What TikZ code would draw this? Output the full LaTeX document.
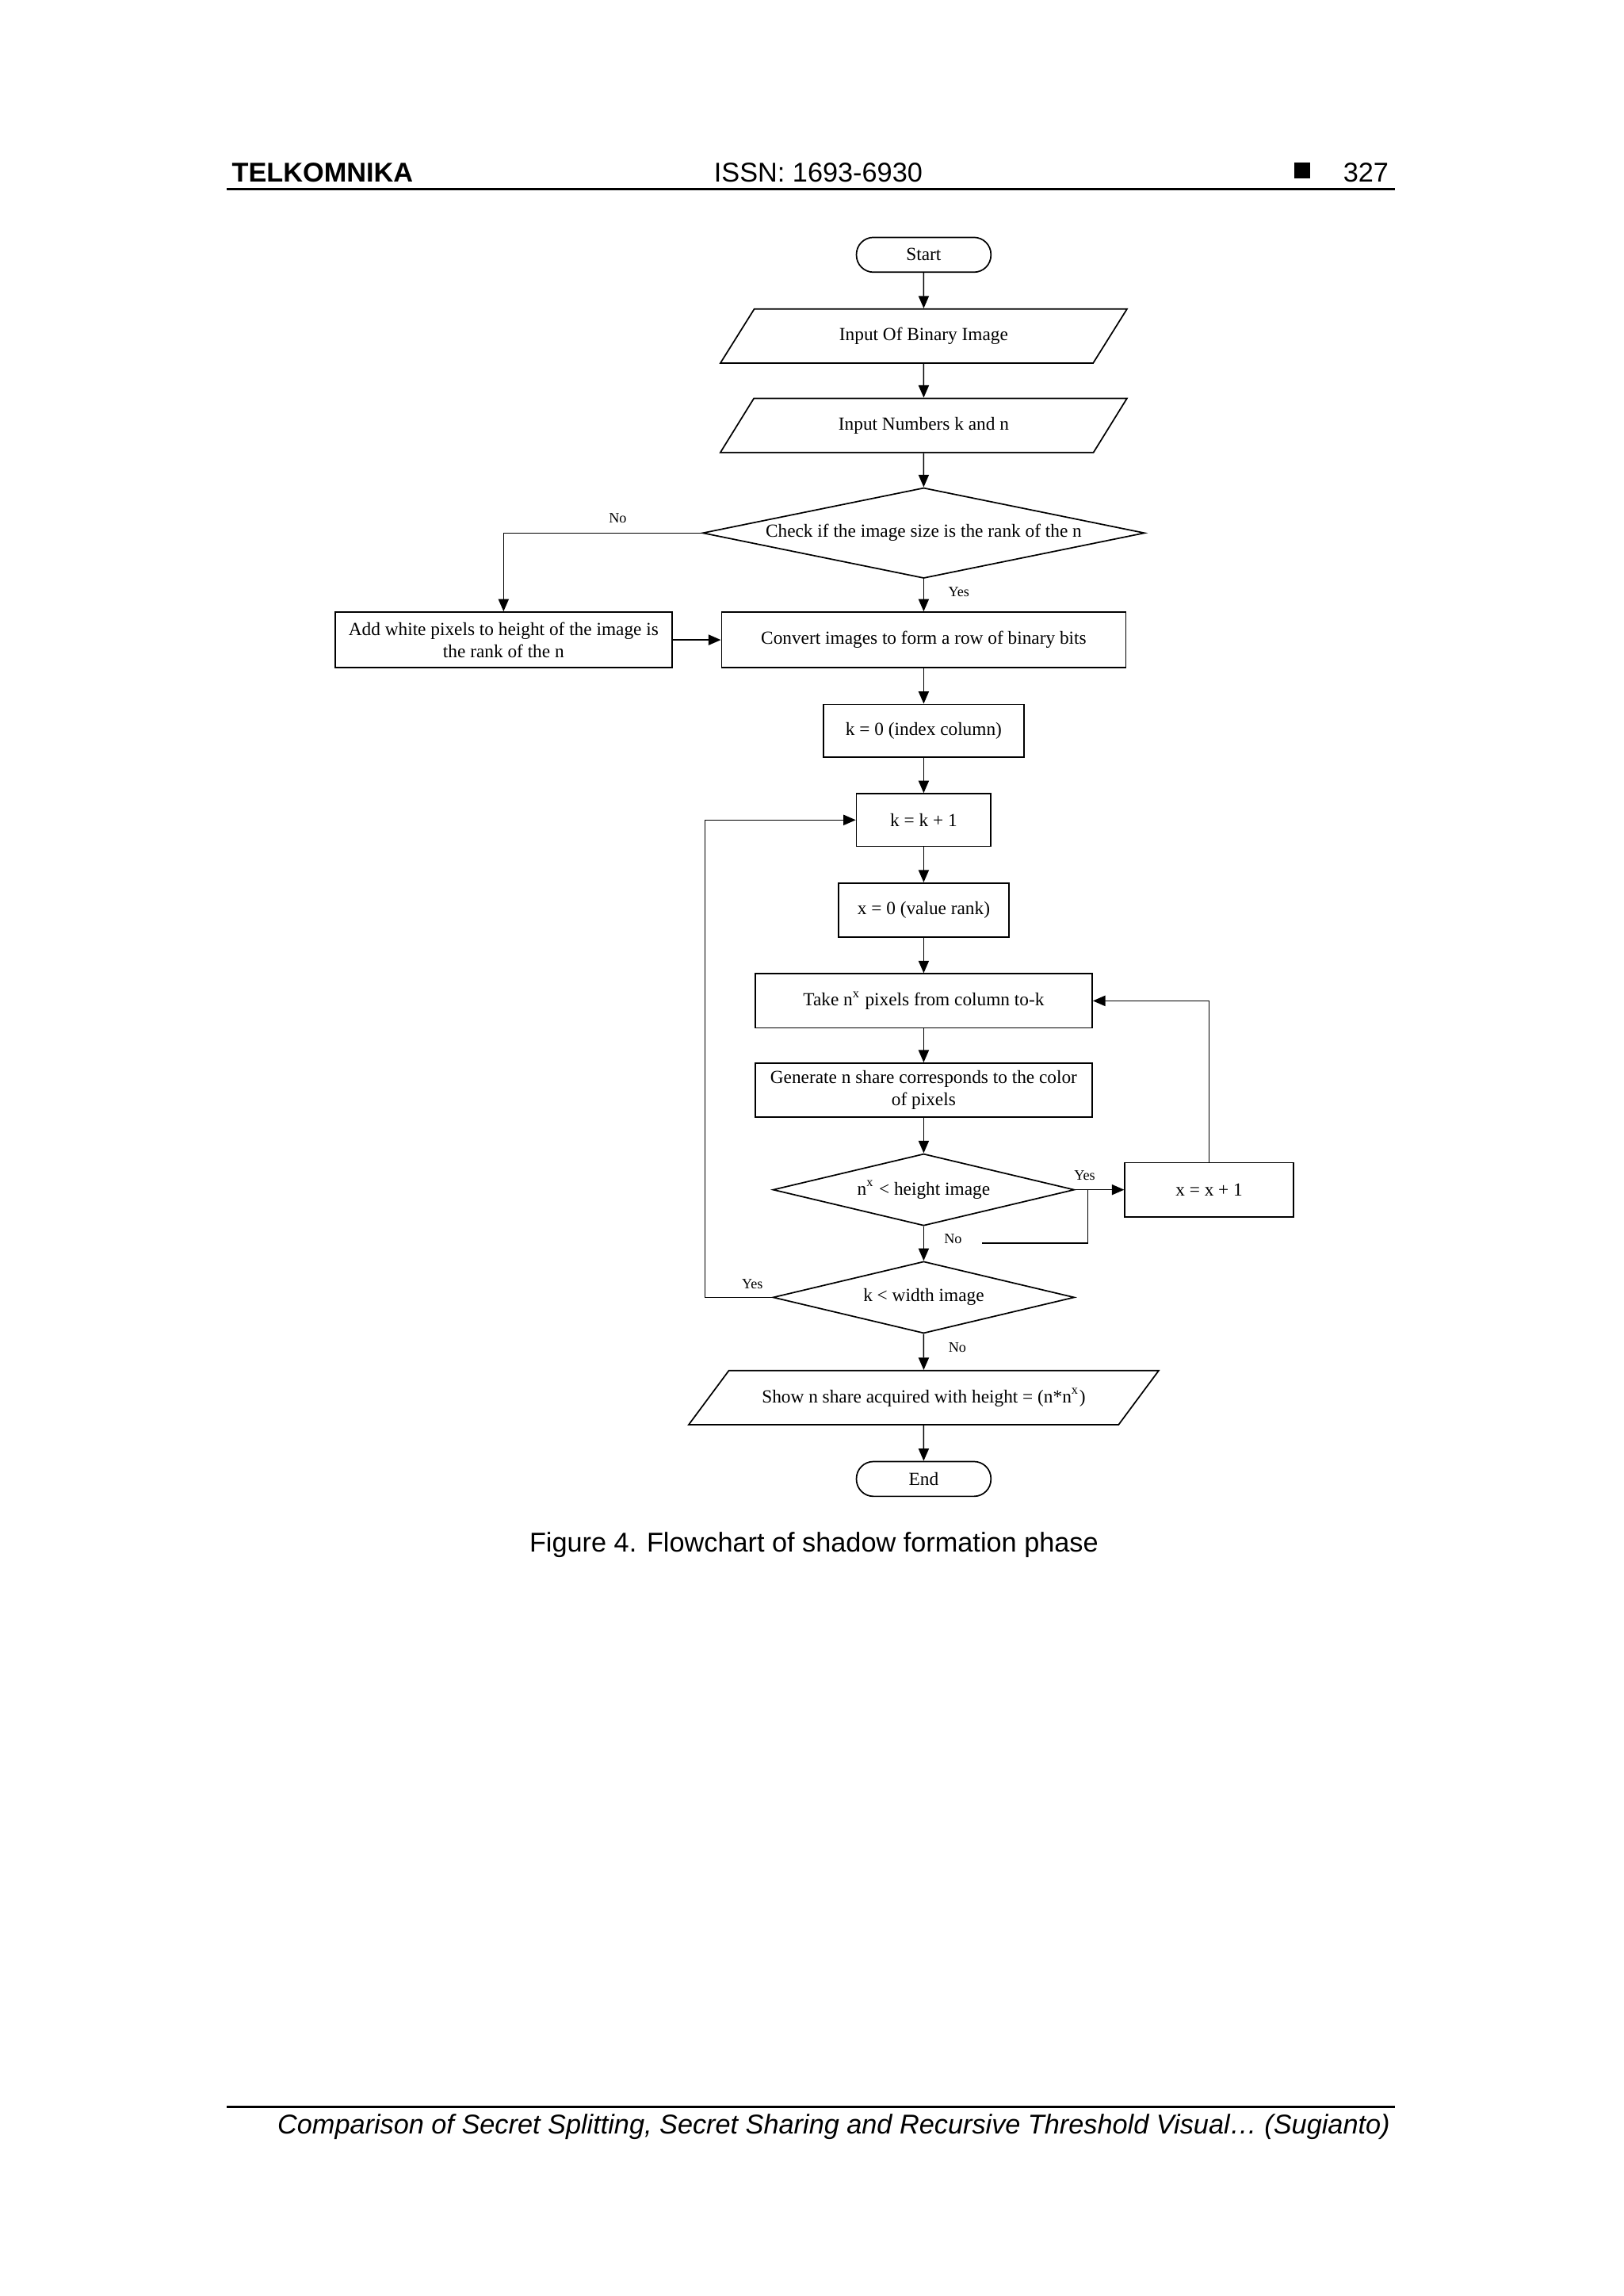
\documentclass[tikz,border=0pt]{standalone}
\usepackage{fontspec}
\setmainfont{Liberation Serif}
\newfontfamily\headfont{Liberation Sans}
\usetikzlibrary{arrows.meta,shapes.geometric,calc}

\begin{document}
\begin{tikzpicture}[x=0.18936mm,y=-0.18936mm,line width=0.45pt,
        flow/.style={-{Triangle[length=1.6mm,width=1.35mm]},line width=0.45pt},
        fcnode/.style={draw,line width=0.5pt,font=\fontsize{6.8}{8.2}\selectfont,align=center,inner sep=1pt},
        proc/.style={fcnode,rectangle},
        term/.style={fcnode,rounded corners=2.2mm,minimum width=17.4mm,minimum height=4.5mm},
        io/.style={fcnode,trapezium,trapezium stretches body,minimum height=7mm},
        decide/.style={fcnode,diamond,inner sep=0pt},
        lbl/.style={font=\fontsize{5.3}{6}\selectfont,inner sep=0pt}]
        % Page
        \fill[white] (0,0) rectangle (1109,1568);
        \useasboundingbox (0,0) rectangle (1109,1568);

        % Running head
        \node[anchor=base west,inner sep=0,font=\headfont\bfseries\fontsize{10}{12}\selectfont] (jname) at (158,124) {TELKOMNIKA};
        \node[anchor=base,inner sep=0,font=\headfont\fontsize{10}{12}\selectfont] (issn) at (559,124) {ISSN: 1693-6930};
        \fill (884,111) rectangle (895,122);
        \node[anchor=base east,inner sep=0,font=\headfont\fontsize{10}{12}\selectfont] (pageno) at (949,124) {327};
        \draw[line width=0.8pt] (155,129) -- (953,129);

        % Flowchart
        \node[term] (start) at (631,174) {Start};
        \node[io,trapezium left angle=33.5,trapezium right angle=146.5,minimum width=52.6mm] (in1) at (631,229.5) {Input Of Binary Image};
        \node[io,trapezium left angle=33.5,trapezium right angle=146.5,minimum width=52.6mm] (in2) at (631,290.5) {Input Numbers k and n};
        \node[decide,aspect=4.87,minimum width=57.2mm,minimum height=11.7mm] (check) at (631,364) {Check if the image size is the rank of the n};
        \node[proc,minimum width=43.6mm,minimum height=7.2mm] (add) at (344,437) {Add white pixels to height of the image is\\the rank of the n};
        \node[proc,minimum width=52.3mm,minimum height=7.2mm] (conv) at (631,437) {Convert images to form a row of binary bits};
        \node[proc,minimum width=25.9mm,minimum height=6.8mm] (kzero) at (631,499) {k = 0 (index column)};
        \node[proc,minimum width=17.4mm,minimum height=6.8mm] (kinc) at (631,560) {k = k + 1};
        \node[proc,minimum width=22mm,minimum height=7mm] (xzero) at (631,621.5) {x = 0 (value rank)};
        \node[proc,minimum width=43.6mm,minimum height=7mm] (take) at (631,683.5) {Take n\textsuperscript{x} pixels from column to-k};
        \node[proc,minimum width=43.6mm,minimum height=7mm] (gen) at (631,744.5) {Generate n share corresponds to the color\\of pixels};
        \node[decide,aspect=4.2,minimum width=39mm,minimum height=9.3mm] (cmpx) at (631,812.5) {n\textsuperscript{x} < height image};
        \node[proc,minimum width=21.8mm,minimum height=7mm] (xinc) at (826,812.5) {x = x + 1};
        \node[decide,aspect=4.2,minimum width=39mm,minimum height=9.3mm] (cmpk) at (631,886) {k < width image};
        \node[io,trapezium left angle=30.4,trapezium right angle=149.6,minimum width=60.8mm] (show) at (631,954.5) {Show n share acquired with height = (n*n\textsuperscript{x})};
        \node[term] (stop) at (631,1010) {End};

        % Straight arrows down the main column
        \foreach \a/\b in {start/in1,in1/in2,in2/check,conv/kzero,kzero/kinc,kinc/xzero,xzero/take,take/gen,gen/cmpx,cmpx/cmpk,cmpk/show,show/stop}
            \draw[flow] (\a) -- (\b);

        % Branches
        \draw[flow] (check) -- (conv);
        \node[lbl] (yes1) at (655,404) {Yes};
        \draw[flow] (check.west) -| (add.north);
        \node[lbl] (no1) at (422,354) {No};
        \draw[flow] (add) -- (conv);

        \draw[flow] (cmpx) -- (xinc);
        \node[lbl] (yes2) at (741,803) {Yes};
        \draw[flow] (xinc.north) |- (take.east);
        \coordinate (nojoin) at (743,812.5);
        \coordinate (noend) at (671,849);
        \draw (nojoin) |- (noend);
        \node[lbl] (no2) at (651,846) {No};

        \draw[flow] (cmpk.west) -- ++(-46,0) |- (kinc.west);
        \node[lbl] (yes3) at (514,877) {Yes};
        \node[lbl] (no3) at (654,920) {No};

        % Caption
        \node[anchor=base,inner sep=0,font=\headfont\fontsize{10}{12}\selectfont] (caption) at (556,1060) {Figure 4. Flowchart of shadow formation phase};

        % Running foot
        \draw[line width=0.8pt] (155,1439) -- (953,1439);
        \node[anchor=base east,inner sep=0,font=\headfont\itshape\fontsize{10}{12}\selectfont] (foot) at (950,1457) {Comparison of Secret Splitting, Secret Sharing and Recursive Threshold Visual… (Sugianto)};
\end{tikzpicture}
\end{document}
